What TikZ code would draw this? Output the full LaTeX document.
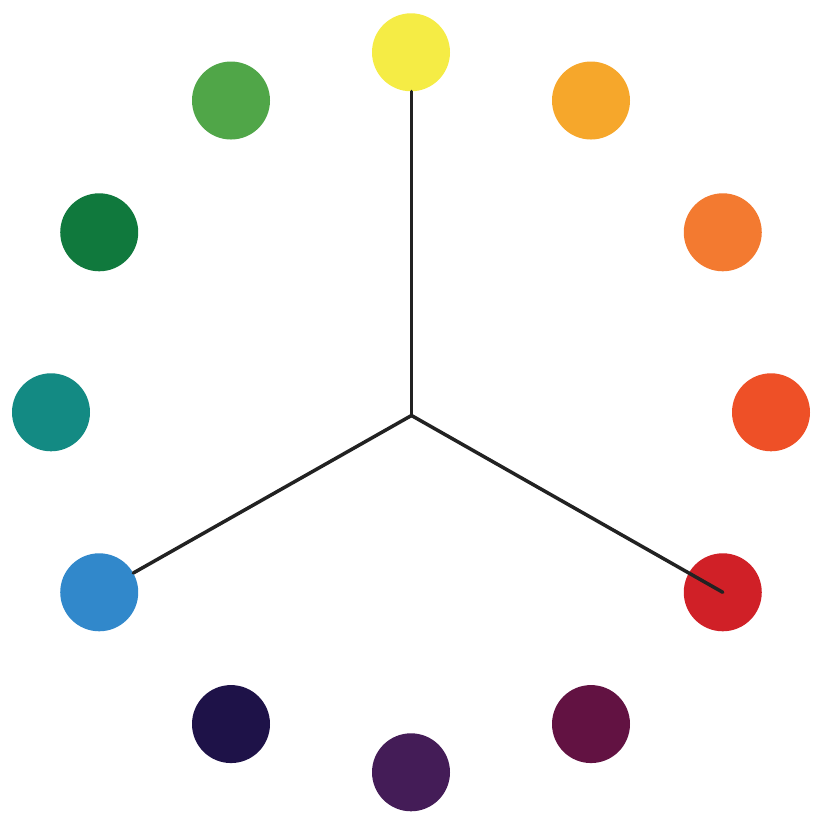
\documentclass[tikz,border=0pt]{standalone}
\usetikzlibrary{calc}
\definecolor{cYellow}{HTML}{F5EC45}
\definecolor{cYelOrange}{HTML}{F6A72B}
\definecolor{cOrange}{HTML}{F37A30}
\definecolor{cRedOrange}{HTML}{EE5027}
\definecolor{cRed}{HTML}{D02027}
\definecolor{cRedPurple}{HTML}{621242}
\definecolor{cPurple}{HTML}{441C57}
\definecolor{cBlueViolet}{HTML}{1E1248}
\definecolor{cBlue}{HTML}{3188CB}
\definecolor{cTeal}{HTML}{138A83}
\definecolor{cDarkGreen}{HTML}{10793D}
\definecolor{cGreen}{HTML}{50A648}
\definecolor{spoke}{HTML}{222222}
\begin{document}
\begin{tikzpicture}[x=1pt,y=1pt,
    hue/.style={circle, minimum size=78pt, inner sep=0pt, fill=#1},
    spokeline/.style={draw=spoke, line width=3.5pt, line cap=round}]
        \useasboundingbox (0,0) rectangle (820,812);
        \coordinate (wheel) at (411,399.7);
        \coordinate (hub) at (411.5,396.5);

        % Colour wheel
        \foreach \a/\c in {90/cYellow,60/cYelOrange,30/cOrange,0/cRedOrange,
                           -30/cRed,-60/cRedPurple,-90/cPurple,-120/cBlueViolet,
                           -150/cBlue,180/cTeal,150/cDarkGreen,120/cGreen} {
          \node[hue=\c] (\c) at ($(wheel)+(\a:360)$) {};
        }

        % Spokes
        \draw[spokeline] (hub) -- (hub |- cYellow.south);
        \draw[spokeline] (hub) -- (cBlue);
        \draw[spokeline] (hub) -- (cRed.center);
    \end{tikzpicture}
\end{document}
